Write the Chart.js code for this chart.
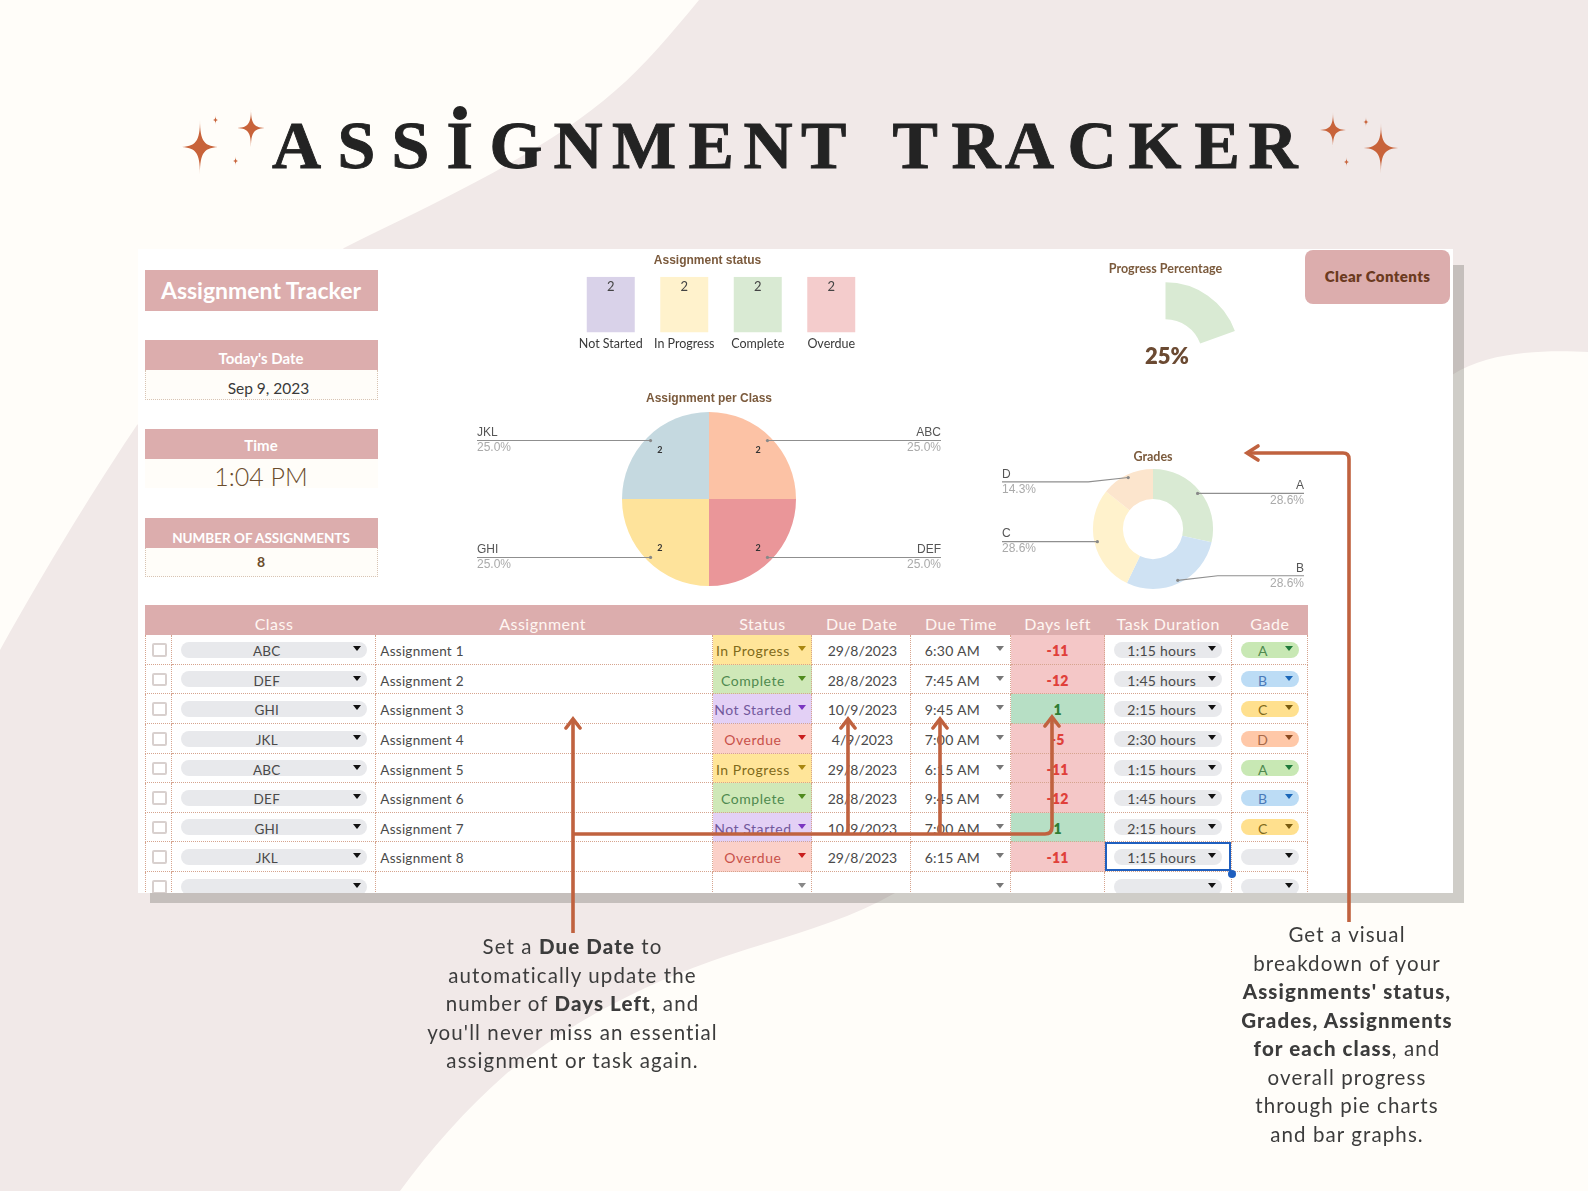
<!DOCTYPE html>
<html><head><meta charset="utf-8">
<script src="https://cdn.jsdelivr.net/npm/chart.js@4"></script>
<style>
html,body{margin:0;padding:0;width:1588px;height:1191px;overflow:hidden;background:#fffdf9;font-family:Lato,sans-serif}
.abs{position:absolute}
#title{left:272px;top:98.5px;width:1060px;white-space:nowrap;font:700 68px/92px "Liberation Serif",serif;color:#232323;-webkit-text-stroke:.9px #232323}
#title span{display:inline-block;white-space:pre}
#title .i{position:relative}
#title .i::before{content:"";position:absolute;left:6px;top:7.5px;width:14px;height:14px;border-radius:50%;background:#232323}
#shadow{left:150px;top:265px;width:1313.5px;height:637.7px;background:rgba(95,95,85,.3)}
#panel{left:137.6px;top:248.7px;width:1315px;height:644px;background:#fff;overflow:hidden}
.pinkbox{position:absolute;left:144.5px;width:233px;background:#dcadad;color:#fff;text-align:center;font-weight:700}
.cellbox{position:absolute;left:144.5px;width:231px;background:#fffdf9;text-align:center;border:1px dotted #d8c4b4;border-top:none}
canvas{position:absolute}
#btn{left:1305.3px;top:250px;width:144.7px;height:54px;border-radius:8px;background:#dcadad;color:#6b3a1f;font:800 15px/53px Lato,sans-serif;text-align:center;letter-spacing:.4px}
#grid{left:145px;top:605px;width:1163px;height:288px;overflow:hidden;display:grid;grid-template-columns:26.8px 204.5px 336.6px 99.1px 99.3px 99.3px 94.1px 127.1px 76.2px;grid-template-rows:30.3px repeat(9,29.6px);font-size:14px;color:#4a4a4a;letter-spacing:.25px}
.hd{background:#dcadad;color:#fff6f2;font-size:16px;line-height:38px;text-align:center;letter-spacing:.5px}
.c{position:relative;border-right:1px dotted #d6a48e;border-bottom:1px dotted #d6a48e;box-sizing:border-box;line-height:30px;white-space:nowrap}
.c:nth-child(9n+1){border-left:1px dotted #d6a48e}
.t{position:absolute;top:1px;transform:translateX(-50%)}
.pill{position:absolute;top:6.5px;height:16px;border-radius:8px;background:#e8e9ec}
.car{position:absolute;top:11px;width:0;height:0;border-left:4.2px solid transparent;border-right:4.2px solid transparent;border-top:5px solid #111;transform:translateX(-50%)}
.chk{position:absolute;left:6px;top:8px;width:11px;height:9.5px;border:2px solid #d8d0ce;border-radius:2px}
.cap{position:absolute;text-align:center;font-size:20.5px;line-height:28.5px;color:#3c3c3c;letter-spacing:1.1px;transform:translateX(-50%);white-space:nowrap}
.cap b{font-weight:900}
</style></head><body>

<svg class="abs" style="left:0;top:0" width="1588" height="1191" viewBox="0 0 1588 1191">
<rect width="1588" height="1191" fill="#f1e9e8"/>
<path fill="#fffdf9" d="M0,0 L699,0 C670,35 645,65 616,90 C565,135 500,170 441,200 C410,216 375,232 344,248 L137,425 C100,480 50,560 0,650 Z"/>
<path fill="#fffdf9" d="M1588,352 C1550,350 1490,350 1452,375 L895,893 C840,925 770,940 709,962 C630,990 560,1030 506,1074 C465,1110 430,1150 400,1191 L1588,1191 Z"/>
</svg>

<div id="title" class="abs"></div>
<svg class="abs" style="left:0;top:0" width="1588" height="1191" viewBox="0 0 1588 1191" id="sparks"></svg>

<div id="shadow" class="abs"></div>
<div id="panel" class="abs"></div>

<div class="pinkbox" style="top:270px;height:41px;font:700 23px/41px Lato,sans-serif">Assignment Tracker</div>
<div class="pinkbox" style="top:340px;height:30px;font-size:15px;line-height:37px">Today's Date</div>
<div class="cellbox" style="top:370px;height:29px;font-size:15.5px;line-height:37px;color:#3a3a3a;padding-left:15px;width:216px">Sep 9, 2023</div>
<div class="pinkbox" style="top:429px;height:30px;font-size:15px;line-height:32px">Time</div>
<div class="cellbox" style="top:459px;height:29px;border:none;width:233px;font-size:25px;font-weight:300;line-height:35px;color:#6b4c2c">1:04 PM</div>
<div class="pinkbox" style="top:518px;height:30px;font-size:13.5px;line-height:40px">NUMBER OF ASSIGNMENTS</div>
<div class="cellbox" style="top:548px;height:28px;font-size:14px;font-weight:700;line-height:28px;color:#6b4c2c">8</div>

<canvas id="cStatus" style="left:547px;top:250px"></canvas>
<canvas id="cGauge" style="left:1065px;top:258px"></canvas>
<canvas id="cClass" style="left:477px;top:388px"></canvas>
<canvas id="cGrade" style="left:1002px;top:446px"></canvas>

<div id="btn" class="abs">Clear Contents</div>
<div id="grid" class="abs"></div>

<svg class="abs" style="left:0;top:0" width="1588" height="1191" viewBox="0 0 1588 1191" fill="none" stroke="#c0623f" stroke-width="3.6">
<path d="M573,933 V720 M573,834 H1045 Q1052,834 1052,827 V718 M848,834 V720 M940,834 V720"/>
<path d="M566,728 L573,719 L580,728 M841,728 L848,719 L855,728 M933,728 L940,719 L947,728 M1045,726 L1052,717 L1059,726" stroke-linecap="round"/>
<path d="M1349,922 V459 Q1349,453 1343,453 H1249"/>
<path d="M1258,446 L1247,453 L1258,460" stroke-linecap="round"/>
</svg>

<div class="cap" style="left:572.5px;top:932px">Set a <b>Due Date</b> to<br>automatically update the<br>number of <b>Days Left</b>, and<br>you'll never miss an essential<br>assignment or task again.</div>
<div class="cap" style="left:1347px;top:920px">Get a visual<br>breakdown of your<br><b>Assignments' status,</b><br><b>Grades, Assignments</b><br><b>for each class</b>, and<br>overall progress<br>through pie charts<br>and bar graphs.</div>

<script>
/* ---------- data ---------- */
const statusLabels = ['Not Started','In Progress','Complete','Overdue'];
const statusCounts = [2,2,2,2];
const classLabels = ['ABC','DEF','GHI','JKL'];
const classCounts = [2,2,2,2];
const gradeLabels = ['A','B','C','D'];
const gradeCounts = [2,2,2,1];
const progressValues = [25,75];
const progressText = '25%';

const rowClass  = ['ABC','DEF','GHI','JKL','ABC','DEF','GHI','JKL'];
const rowName   = ['Assignment 1','Assignment 2','Assignment 3','Assignment 4','Assignment 5','Assignment 6','Assignment 7','Assignment 8'];
const rowStatus = ['In Progress','Complete','Not Started','Overdue','In Progress','Complete','Not Started','Overdue'];
const rowDate   = ['29/8/2023','28/8/2023','10/9/2023','4/9/2023','29/8/2023','28/8/2023','10/9/2023','29/8/2023'];
const rowTime   = ['6:30 AM','7:45 AM','9:45 AM','7:00 AM','6:15 AM','9:45 AM','7:00 AM','6:15 AM'];
const rowDays   = [-11,-12,1,-5,-11,-12,1,-11];
const rowDur    = ['1:15 hours','1:45 hours','2:15 hours','2:30 hours','1:15 hours','1:45 hours','2:15 hours','1:15 hours'];
const rowGrade  = ['A','B','C','D','A','B','C',''];
const headers   = ['','Class','Assignment','Status','Due Date','Due Time','Days left','Task Duration','Gade'];
const titleText = 'ASSIGNMENT TRACKER';

/* ---------- title (per-letter advance of the display face) ---------- */
const titleAdvance = [65.5,54,55,43,64,58.6,76.4,55,57.5,42,49.5,59,53.6,62.4,61,66,54,48];
document.getElementById('title').innerHTML=[...titleText].map((ch,i)=>`<span${i===3?' class="i"':''} style="width:${titleAdvance[i]}px">${ch}</span>`).join('');

/* ---------- sparkles ---------- */
const sparkSvg = document.getElementById('sparks');
function star(cx,cy,rx,ry){
  const a=.2*rx,b=.2*ry;
  return `<path fill="#c8633a" d="M${cx},${cy-ry} C${cx},${cy-b} ${cx+a},${cy} ${cx+rx},${cy} C${cx+a},${cy} ${cx},${cy+b} ${cx},${cy+ry} C${cx},${cy+b} ${cx-a},${cy} ${cx-rx},${cy} C${cx-a},${cy} ${cx},${cy-b} ${cx},${cy-ry}Z"/>`;
}
sparkSvg.innerHTML=[[200,147,21,27],[251,128,16,19],[215.5,120,3.5,5],[235.6,161,3.5,5],[1333,130,15,18],[1381,148,20,25],[1366,122,3.5,5],[1346.5,162,3.5,5]].map(s=>star(...s)).join('');

/* ---------- table ---------- */
const statusStyle={'In Progress':['#ffe599','#7f6a1a','#a8860f'],'Complete':['#cfe8b8','#4f8a4f','#4f8a1d'],'Not Started':['#e3d0f5','#72589c','#7a35c0'],'Overdue':['#fbd0c8','#c8504a','#c81e1e']};
const gradeStyle={A:['#c8e8b4','#4f8a4f','#1e7a3a'],B:['#bcdcf5','#4a7ab8','#1a66b8'],C:['#ffe08e','#7f6a1a','#7a5c10'],D:['#ffc8a8','#a86a4a','#8a4a20'],'':['#e8e9ec','#555','#111']};
const grid=document.getElementById('grid');
let html=headers.map((h,i)=>`<div class="hd"${i===2?' style="padding-right:4px"':''}>${h}</div>`).join('');
const car=(x,col)=>`<div class="car" style="left:${x}px;border-top-color:${col||'#111'}"></div>`;
const txt=(x,s,extra)=>`<div class="t" style="left:${x}px;${extra||''}">${s}</div>`;
for(let r=0;r<9;r++){
  const has=r<8;
  html+=`<div class="c"><div class="chk"></div></div>`;
  html+=`<div class="c"><div class="pill" style="left:9px;width:186px"></div>${has?txt(95,rowClass[r],'font-size:13.5px'):''}${car(185)}</div>`;
  html+=`<div class="c" style="padding-left:4px;font-size:13.5px"><span style="position:relative;top:1px">${has?rowName[r]:''}</span></div>`;
  if(has){const s=statusStyle[rowStatus[r]];
    html+=`<div class="c" style="background:${s[0]}">${txt(40,rowStatus[r],'color:'+s[1]+';letter-spacing:.55px')}${car(89,s[2])}</div>`;
  } else html+=`<div class="c">${car(89,'#888')}</div>`;
  html+=`<div class="c">${has?txt(50.5,rowDate[r],'letter-spacing:0'):''}</div>`;
  html+=`<div class="c">${has?txt(41,rowTime[r]):''}${car(89,'#777')}</div>`;
  if(has){const d=rowDays[r];
    html+=`<div class="c" style="background:${d<0?'#f4c7c7':'#b7dfc5'}">${txt(47,d,'font-weight:800;color:'+(d<0?'#e0403a':'#2e7d32'))}</div>`;
  } else html+=`<div class="c"></div>`;
  const sel=r===7;
  html+=`<div class="c"${sel?' style="box-shadow:inset 0 0 0 2px #1f5fbf"':''}><div class="pill" style="left:9px;width:108px"></div>${has?txt(57,rowDur[r]):''}${car(107)}</div>`;
  const g=has?rowGrade[r]:'';const gs=gradeStyle[g];
  html+=`<div class="c"><div class="pill" style="left:9px;width:58px;background:${gs[0]}"></div>${g?txt(31,g,'color:'+gs[1]):''}${car(57,gs[2])}</div>`;
}
grid.innerHTML=html;
const dot=document.createElement('div');
dot.className='abs';dot.style.cssText='left:1227.5px;top:870px;width:8px;height:8px;border-radius:50%;background:#1f5fbf';
document.body.appendChild(dot);

/* ---------- charts ---------- */
Chart.defaults.animation=false;
const titleFont={family:'"Liberation Sans",sans-serif',size:12,weight:'bold',lineHeight:1.2};
const titleRound={family:'Lato,sans-serif',size:12.5,weight:'bold',lineHeight:1.2};
const brown='#7b5a3c';

const barValues={id:'barValues',afterDatasetsDraw(ch){
  const c=ch.ctx;c.save();c.font='13px Lato,sans-serif';c.fillStyle='#444';c.textAlign='center';c.textBaseline='middle';
  ch.getDatasetMeta(0).data.forEach((b,i)=>c.fillText(String(ch.data.datasets[0].data[i]),b.x,b.y+10));
  c.restore();
}};
function size(id,w,h){const e=document.getElementById(id);e.width=w;e.height=h;e.style.width=w+'px';e.style.height=h+'px';return e;}

new Chart(size('cStatus',321,102),{type:'bar',
  data:{labels:statusLabels,datasets:[{data:statusCounts,backgroundColor:['#d9d2e9','#fff2cc','#d9ead3','#f4cccc'],categoryPercentage:1,barPercentage:.653}]},
  options:{responsive:false,
    plugins:{legend:{display:false},tooltip:{enabled:false},
      title:{display:true,text:'Assignment status',color:brown,font:titleFont,padding:{top:3.5,bottom:8.8}}},
    scales:{y:{display:true,min:0,max:2,afterFit(a){a.width=27},ticks:{display:false},grid:{display:false},border:{display:false}},
      x:{afterFit(a){a.height=19.4},grid:{display:false,drawTicks:false},border:{display:false},ticks:{padding:3.8,color:'#3a3a3a',font:{family:'Lato,sans-serif',size:12.5},maxRotation:0,autoSkip:false}}}},
  plugins:[barValues]});

const centerText={id:'centerText',afterDatasetsDraw(ch){
  const a=ch.getDatasetMeta(0).data[0],c=ch.ctx;c.save();
  c.font='800 22px Lato,sans-serif';c.fillStyle='#6b4a32';c.textAlign='center';c.textBaseline='middle';
  c.fillText(progressText,a.x+1.5,a.y+1);c.restore();
}};
new Chart(size('cGauge',201,172),{type:'doughnut',
  data:{labels:['Progress','Remaining'],datasets:[{data:progressValues,backgroundColor:['#d9ead3','rgba(0,0,0,0)'],borderWidth:0,hoverBorderWidth:0}]},
  options:{responsive:false,rotation:0,circumference:280,cutout:'50%',
    plugins:{legend:{display:false},tooltip:{enabled:false},
      title:{display:true,text:'Progress Percentage',color:brown,font:titleRound,padding:{top:3.8,bottom:5.5}}}},
  plugins:[centerText]});

const leaders={id:'leaders',afterDatasetsDraw(ch,args,o){
  const c=ch.ctx,area=ch.chartArea,labels=ch.data.labels,vals=ch.data.datasets[0].data;
  const total=vals.reduce((a,b)=>a+b,0);c.save();
  ch.getDatasetMeta(0).data.forEach((a,i)=>{
    const mid=(a.startAngle+a.endAngle)/2,right=Math.cos(mid)>=0;
    const dx=a.x+Math.cos(mid)*a.outerRadius*.95,dy=a.y+Math.sin(mid)*a.outerRadius*.95;
    const edge=right?area.right:area.left,off=(o.elbows||[])[i]||0,ly=dy+off;
    c.strokeStyle='#8f8f8f';c.lineWidth=1.1;c.beginPath();c.moveTo(dx,dy);
    if(off)c.lineTo(dx+(right?40:-40),ly);
    c.lineTo(edge,ly);c.stroke();
    c.fillStyle='#888';c.beginPath();c.arc(dx,dy,1.6,0,Math.PI*2);c.fill();
    c.textAlign=right?'right':'left';c.textBaseline='middle';
    c.font='12px "Liberation Sans",sans-serif';c.fillStyle='#555';c.fillText(labels[i],edge,ly-7.5);
    c.fillStyle='#aaa';c.fillText((vals[i]/total*100).toFixed(1)+'%',edge,ly+7.5);
    if(o.values){c.textAlign='center';c.font='bold 9px Lato,sans-serif';c.fillStyle='#333';
      c.fillText(String(vals[i]),a.x+Math.cos(mid)*a.outerRadius*.8,a.y+Math.sin(mid)*a.outerRadius*.8);}
  });c.restore();
}};
new Chart(size('cClass',464,198),{type:'pie',
  data:{labels:classLabels,datasets:[{data:classCounts,backgroundColor:['#fcc2a5','#ea9699','#fee39b','#c5d9e0'],borderWidth:0,hoverBorderWidth:0}]},
  options:{responsive:false,
    plugins:{legend:{display:false},tooltip:{enabled:false},leaders:{values:true},
      title:{display:true,text:'Assignment per Class',color:brown,font:titleFont,padding:{top:3.5,bottom:6.1}}}},
  plugins:[leaders]});
new Chart(size('cGrade',302,143),{type:'doughnut',
  data:{labels:gradeLabels,datasets:[{data:gradeCounts,backgroundColor:['#d9ead3','#cfe2f3','#fff2cc','#fce5cd'],borderWidth:0,hoverBorderWidth:0}]},
  options:{responsive:false,cutout:'50%',
    plugins:{legend:{display:false},tooltip:{enabled:false},leaders:{elbows:[0,-4.6,0,4.3]},
      title:{display:true,text:'Grades',color:brown,font:titleRound,padding:{top:3.8,bottom:4.1}}}},
  plugins:[leaders]});
</script>
</body></html>
